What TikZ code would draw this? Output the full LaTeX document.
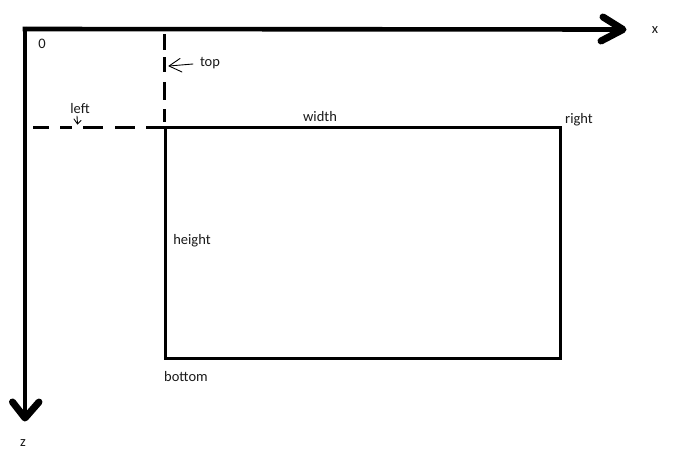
\documentclass[tikz,border=0pt]{standalone}
\usepackage{fontspec}
\setmainfont{Carlito}
\usetikzlibrary{calc}
\begin{document}
\begin{tikzpicture}[x=1pt,y=-1pt,
  lbl/.style={inner sep=0pt,font=\fontsize{14.5}{17}\selectfont,text=black!90},
  axis/.style={line width=4.6pt,line cap=butt},
  chevron/.style={line width=7pt,line cap=round,line join=round},
  boxline/.style={line width=3pt},
  dashline/.style={line width=3.2pt},
  thin/.style={line width=0.9pt,line cap=round,line join=round}]
\useasboundingbox (0,0) rectangle (687,463);
% axes
\coordinate (O) at (25,26.5);
\coordinate (Oh) at (22.7,29);
\coordinate (xtip) at (623,29.5);
\coordinate (ztip) at (25,418);
\draw[axis] (Oh) -- (xtip);
\draw[axis] (O) -- (ztip);
\draw[chevron] ($(xtip)+(-20,-12.5)$) -- (xtip) -- ($(xtip)+(-22,11.5)$);
\draw[chevron] ($(ztip)+(-12.5,-16)$) -- (ztip) -- ($(ztip)+(14,-16)$);
% rectangle
\node[draw,boxline,inner sep=0pt,outer sep=0pt,minimum width=395pt,minimum height=231pt] (box) at (362.5,243) {};
% dashed guides
\coordinate (vtop) at (164.5,34);
\coordinate (hleft) at (33,127.5);
\draw[dashline,dash pattern=on 16pt off 7pt on 15pt off 10pt on 18pt off 9pt on 13pt off 30pt] (vtop) -- (vtop |- box.north);
\draw[dashline,dash pattern=on 16pt off 11pt on 12pt off 11pt on 20pt off 12pt on 20pt off 11pt on 20pt off 10pt] (hleft) -- (box.north west);
% labels
\node[lbl] (zero) at (42,44) {0};
\node[lbl] (xl) at (655,30) {x};
\node[lbl] (zl) at (23,443) {z};
\node[lbl] (top) at (210,63) {top};
\node[lbl] (left) at (80,109) {left};
\node[lbl] (width) at (320,117) {width};
\node[lbl] (right) at (579,120) {right};
\node[lbl] (height) at (192,241) {height};
\node[lbl] (bottom) at (186,377) {bottom};
% small pointer arrows
\coordinate (toptip) at (169,66);
\coordinate (topend) at (193,64);
\draw[thin] (topend) -- (toptip);
\draw[thin] (180,58.5) -- (toptip) -- (182,72);
\coordinate (lefttip) at (77.5,124);
\draw[thin] (77,116) -- (lefttip);
\draw[thin] (74,119) -- (lefttip) -- (81,120.5);
\end{tikzpicture}
\end{document}
